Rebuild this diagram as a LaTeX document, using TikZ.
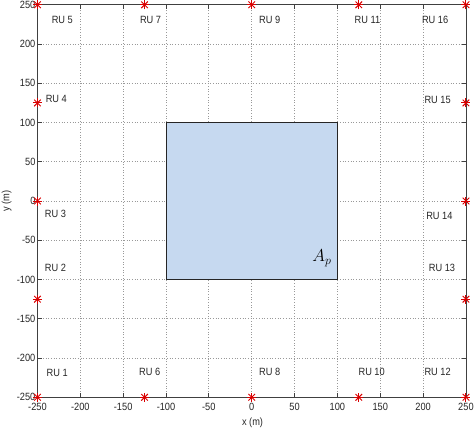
\documentclass[tikz,border=0pt]{standalone}
\usepackage{fontspec}
\setmainfont{Liberation Sans}[FakeStretch=0.88]
\begin{document}
\begin{tikzpicture}[x=0.857pt,y=0.785pt,
  gridline/.style={gray!80,line width=0.7pt,dotted},
  axisline/.style={black!75,line width=0.8pt},
  ticklab/.style={font=\fontsize{10.5}{11}\selectfont,text=black!85,inner sep=1pt},
  rulab/.style={font=\fontsize{10.5}{11}\selectfont,text=black!85,inner sep=1pt},
  rumark/.style={red!85!black,line width=0.9pt},
  area/.style={fill={rgb,255:red,198;green,217;blue,240},draw=black!85,line width=0.7pt}]
\useasboundingbox (-293.7,-293) rectangle (259.4,256.1);
\fill[white] (-293.7,-293) rectangle (259.4,256.1);
% grid
\foreach \v in {-200,-150,...,200} {
  \draw[gridline] (\v,-250) -- (\v,250);
  \draw[gridline] (-250,\v) -- (250,\v);
}
% area
\node[area,minimum width=171.4pt,minimum height=157pt,inner sep=0pt] (ap) at (0,0) {};
\node[font=\fontsize{17}{18}\selectfont] (aplab) at (82,-73) {$A_p$};
% axes box
\draw[axisline] (-250,-250) rectangle (250,250);
% ticks
\foreach \v in {-200,-150,...,200} {
  \draw[axisline] (\v,-250) -- ++(0,5.5);
  \draw[axisline] (\v,250) -- ++(0,-5.5);
  \draw[axisline] (-250,\v) -- ++(5,0);
  \draw[axisline] (250,\v) -- ++(-5,0);
}
% tick labels
\foreach \v in {-250,-200,...,250} {
  \node[ticklab,anchor=north] (xt\v) at (\v,-256) {\v};
  \node[ticklab,anchor=east] (yt\v) at (-251,\v) {\v};
}
\node[ticklab] (xl) at (1,-283) {x (m)};
\node[ticklab,rotate=90] (yl) at (-286,0) {y (m)};
% RUs
\foreach \px/\py in {-250/250,-125/250,0/250,125/250,250/250,-250/125,250/125,-250/0,250/0,-250/-125,250/-125,-250/-250,-125/-250,0/-250,125/-250,250/-250} {
  \coordinate (s) at (\px,\py);
  \draw[rumark] ([shift={(-4.5pt,0pt)}]s) -- ([shift={(4.5pt,0pt)}]s);
  \draw[rumark] ([shift={(0pt,-4.5pt)}]s) -- ([shift={(0pt,4.5pt)}]s);
  \draw[rumark] ([shift={(-3.3pt,-3.3pt)}]s) -- ([shift={(3.3pt,3.3pt)}]s);
  \draw[rumark] ([shift={(-3.3pt,3.3pt)}]s) -- ([shift={(3.3pt,-3.3pt)}]s);
}
\node[rulab] (ru5) at (-221,231) {RU 5};
\node[rulab] (ru7) at (-118,231) {RU 7};
\node[rulab] (ru9) at (21,231) {RU 9};
\node[rulab] (ru11) at (135,231) {RU 11};
\node[rulab] (ru16) at (214,231) {RU 16};
\node[rulab] (ru4) at (-228,130) {RU 4};
\node[rulab] (ru15) at (217,129) {RU 15};
\node[rulab] (ru3) at (-229,-16) {RU 3};
\node[rulab] (ru14) at (219,-19) {RU 14};
\node[rulab] (ru2) at (-229,-85) {RU 2};
\node[rulab] (ru13) at (222,-85) {RU 13};
\node[rulab] (ru1) at (-227,-219) {RU 1};
\node[rulab] (ru6) at (-119,-217) {RU 6};
\node[rulab] (ru8) at (21,-218) {RU 8};
\node[rulab] (ru10) at (140,-217) {RU 10};
\node[rulab] (ru12) at (217,-218) {RU 12};
\end{tikzpicture}
\end{document}
